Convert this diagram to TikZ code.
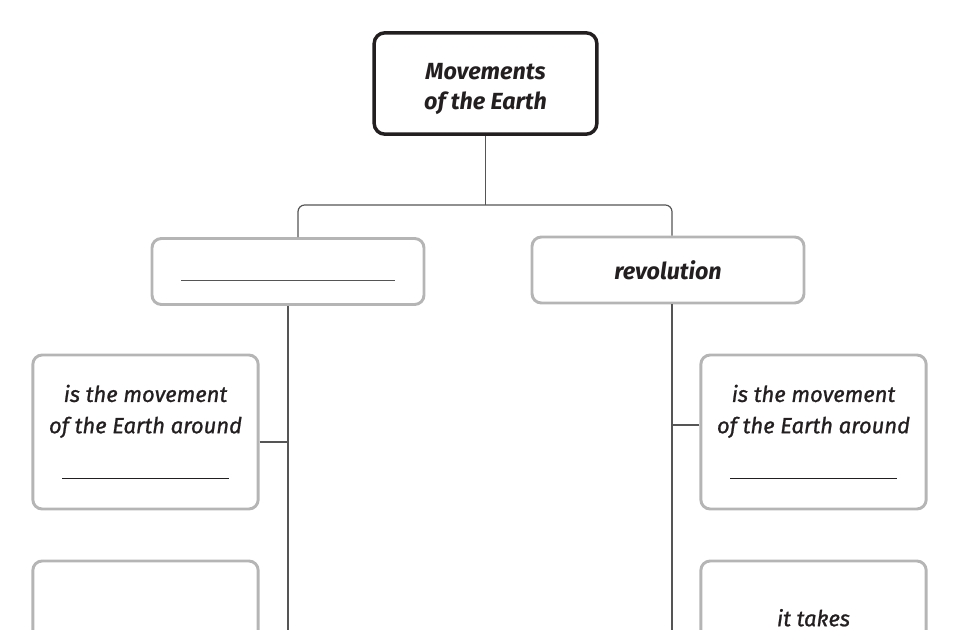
\documentclass[tikz,border=0pt]{standalone}
\usepackage{fontspec}
\setmainfont{Fira Sans}[ItalicFeatures={FakeBold=1}]
\usetikzlibrary{calc}
\definecolor{inkdark}{HTML}{231F20}
\definecolor{boxgray}{HTML}{B5B5B5}
\definecolor{linkgray}{HTML}{555555}
\tikzset{
  headbox/.style={draw=inkdark, line width=2.6pt, rounded corners=8pt, align=center,
    text=inkdark, font=\fontsize{17.5}{22.5}\selectfont\bfseries\itshape},
  termbox/.style={draw=boxgray, line width=2.2pt, rounded corners=7pt, align=center,
    text=inkdark, font=\fontsize{17.5}{22.5}\selectfont\bfseries\itshape},
  infobox/.style={draw=boxgray, line width=2.2pt, rounded corners=7pt, align=center,
    text=inkdark, font=\fontsize{16.5}{23.5}\selectfont\itshape},
  link/.style={draw=linkgray, line width=0.9pt},
  blank/.style={draw=linkgray, line width=0.7pt}
}
\begin{document}
\begin{tikzpicture}[x=0.75pt, y=-0.75pt]
      \useasboundingbox (0,0) rectangle (962,630);
      \clip (0,0) rectangle (962,630);

      \node[headbox, minimum width=167pt, minimum height=76pt] (top) at (485.5,83.5) {\rule{0pt}{20pt}Movements\\of the Earth};
      \node[termbox, minimum width=204pt, minimum height=49.5pt] (lbox) at (288,271.5) {};
      \node[termbox, minimum width=204pt, minimum height=49.5pt] (rbox) at (668,270) {revolution};

      \node[infobox, minimum width=169pt, minimum height=115.5pt] (lmove) at (145.5,432)
        {is the movement\\of the Earth around\\[11pt]\rule{125pt}{0.6pt}};
      \node[infobox, minimum width=169pt, minimum height=115.5pt] (rmove) at (813.5,432)
        {is the movement\\of the Earth around\\[11pt]\rule{125pt}{0.6pt}};
      \node[infobox, minimum width=169pt, minimum height=115.5pt] (ltime) at (145.5,638) {};
      \node[infobox, minimum width=169pt, minimum height=115.5pt] (rtime) at (813.5,638) {it takes\\[0pt]\strut};

      \coordinate (fork) at (485.5,205);
      \coordinate (lend) at (288,640);
      \coordinate (rend) at (672,640);

      % blank to fill in
      \draw[blank] ([xshift=-80pt,yshift=-7pt]lbox.center) -- ([xshift=80pt,yshift=-7pt]lbox.center);

      \draw[link] (top) -- (fork);
      \draw[link, rounded corners=5pt] ([xshift=7.5pt]lbox.north) |- (fork) -| ([xshift=3pt]rbox.north);
      \draw[link] (lbox) -- (lend);
      \draw[link] ([xshift=3pt]rbox.south) -- (rend);
      \draw[link] ([yshift=-7.5pt]lmove.east) -- ([yshift=-7.5pt]lmove.east -| lend);
      \draw[link] ([yshift=5.25pt]rmove.west) -- ([yshift=5.25pt]rmove.west -| rend);
    \end{tikzpicture}
\end{document}
